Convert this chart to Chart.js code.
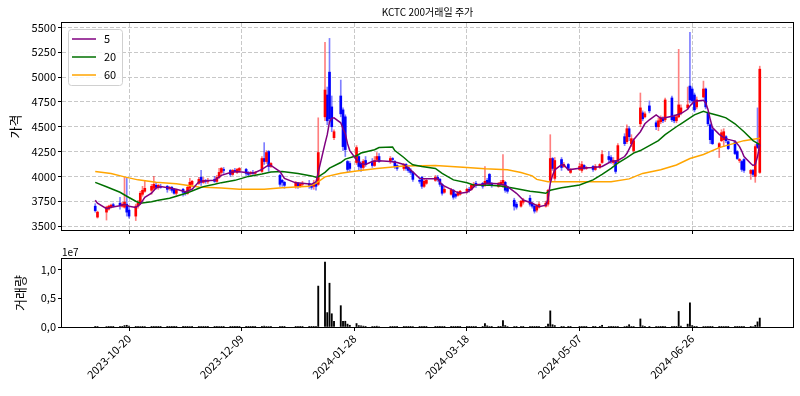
<!DOCTYPE html>
<html>
<head>
<meta charset="utf-8">
<script src="https://cdn.jsdelivr.net/npm/chart.js@4.4.0/dist/chart.umd.min.js"></script>
<style>
  html, body { margin: 0; padding: 0; background: #fff; }
  #wrap { position: relative; width: 800px; height: 396px; }
  #top { position: absolute; left: 0; top: 0; width: 800px; height: 240px; }
  #bot { position: absolute; left: 0; top: 240px; width: 800px; height: 156px; }
</style>
</head>
<body>
<div id="wrap">
  <div id="top"><canvas id="priceChart" width="800" height="240"></canvas></div>
  <div id="bot"><canvas id="volChart" width="800" height="156"></canvas></div>
</div>
<script>
// trading days shown (200)
const months = ['2023-10', '2023-11', '2023-12', '2024-01', '2024-02', '2024-03', '2024-04', '2024-05', '2024-06', '2024-07'];
const monthDays = [
    [5, 6, 10, 11, 12, 13, 16, 17, 18, 19, 20, 23, 24, 25, 26, 27, 30, 31],
    [1, 2, 3, 6, 7, 8, 9, 10, 13, 14, 15, 16, 17, 20, 21, 22, 23, 24, 27, 28, 29, 30],
    [1, 4, 5, 6, 7, 8, 11, 12, 13, 14, 15, 18, 19, 20, 21, 22, 26, 27, 28],
    [2, 3, 4, 5, 8, 9, 10, 11, 12, 15, 16, 17, 18, 19, 22, 23, 24, 25, 26, 29, 30, 31],
    [1, 2, 5, 6, 7, 8, 13, 14, 15, 16, 19, 20, 21, 22, 23, 26, 27, 28, 29],
    [4, 5, 6, 7, 8, 11, 12, 13, 14, 15, 18, 19, 20, 21, 22, 25, 26, 27, 28, 29],
    [1, 2, 3, 4, 5, 8, 9, 11, 12, 15, 16, 17, 18, 19, 22, 23, 24, 25, 26, 29, 30],
    [2, 3, 7, 8, 9, 10, 13, 14, 16, 17, 20, 21, 22, 23, 24, 27, 28, 29, 30, 31],
    [3, 4, 5, 7, 10, 11, 12, 13, 14, 17, 18, 19, 20, 21, 24, 25, 26, 27, 28],
    [1, 2, 3, 4, 5, 8, 9, 10, 11, 12, 15, 16, 17, 18, 19, 22, 23, 24, 25, 26],
];

const opens = [
    3700, 3590, 3640, 3670, 3690, 3715, 3730, 3700, 3690, 3720, 3660, 3600, 3700, 3730, 3820, 3850, 3860, 3880,
    3910, 3890, 3900, 3900, 3880, 3890, 3870, 3830, 3870, 3840, 3830, 3880, 3920, 3930, 3990, 3940, 3960, 3950, 3970, 3950, 3990, 4040,
    4070, 4060, 4020, 4060, 4040, 4060, 4070, 4030, 4030, 4040, 4030, 4050, 4180, 4150, 4250, 4100, 4010, 3960, 3940,
    3900, 3930, 3900, 3920, 3930, 3910, 3900, 3930, 3920, 4600, 4820, 5050, 4700, 4390, 4810, 4670, 4600, 4150, 4130, 4140, 4200, 4130,
    4090, 4160, 4140, 4110, 4170, 4200, 4150, 4180, 4150, 4110, 4080, 4120, 4090, 4060, 4040, 3960, 3990, 3900, 3930,
    3960, 3990, 3970, 3920, 3840, 3820, 3860, 3820, 3810, 3820, 3850, 3870, 3870, 3900, 3930, 3930, 3910, 3960, 4020, 3930,
    3900, 3920, 3930, 3940, 3880, 3760, 3720, 3700, 3740, 3780, 3730, 3700, 3660, 3690, 3700, 3720, 3960, 4180, 3980, 4170, 4100,
    4120, 4040, 4070, 4060, 4110, 4080, 4100, 4070, 4090, 4140, 4200, 4190, 4140, 4150, 4150, 4400, 4350, 4480, 4330, 4260,
    4530, 4640, 4600, 4710, 4540, 4500, 4550, 4580, 4570, 4790, 4600, 4560, 4600, 4640, 4690, 4910, 4880, 4820, 4700,
    4800, 4880, 4640, 4520, 4470, 4290, 4360, 4370, 4400, 4350, 4350, 4250, 4160, 4150, 4170, 4030, 4060, 4000, 4330, 4040,
];
const highs = [
    3725, 3650, 3700, 3710, 3720, 3730, 3790, 3740, 3990, 3980, 3690, 3720, 3760, 3850, 3900, 3960, 3920, 4000,
    3930, 3920, 3920, 3910, 3900, 3900, 3880, 3870, 3880, 3850, 3900, 3980, 3960, 3990, 4060, 3990, 3970, 3980, 4000, 4010, 4080, 4090,
    4090, 4070, 4070, 4080, 4080, 4090, 4080, 4050, 4050, 4060, 4050, 4200, 4340, 4260, 4260, 4140, 4020, 3970, 3950,
    3950, 3940, 3930, 3950, 3960, 3920, 3960, 3950, 4590, 5350, 4900, 5390, 4810, 4470, 4970, 4690, 4620, 4160, 4150, 4310, 4210, 4150,
    4170, 4200, 4180, 4200, 4240, 4230, 4200, 4190, 4160, 4120, 4130, 4130, 4100, 4080, 4050, 3980, 4000, 3970, 3980,
    4010, 4010, 3980, 3930, 3890, 3880, 3870, 3830, 3850, 3860, 3880, 3890, 3920, 3940, 3950, 3940, 4100, 3980, 4030, 3940,
    3940, 3960, 4220, 3950, 3900, 3780, 3740, 3760, 3780, 3810, 3740, 3720, 3720, 3740, 3750, 3870, 4420, 4190, 4190, 4190, 4140,
    4130, 4080, 4130, 4150, 4120, 4100, 4110, 4120, 4130, 4260, 4250, 4210, 4190, 4160, 4330, 4430, 4520, 4500, 4420, 4380,
    4840, 4660, 4650, 4760, 4560, 4590, 4610, 4600, 4790, 4810, 4620, 4620, 5280, 4720, 4900, 5450, 4900, 4840, 4800,
    4960, 4890, 4650, 4530, 4480, 4340, 4470, 4480, 4410, 4360, 4360, 4260, 4180, 4160, 4180, 4070, 4070, 4320, 4690, 5110,
];
const lows = [
    3640, 3580, 3560, 3660, 3680, 3690, 3670, 3690, 3680, 3600, 3580, 3555, 3680, 3720, 3800, 3840, 3820, 3860,
    3870, 3870, 3880, 3840, 3860, 3840, 3820, 3810, 3800, 3810, 3820, 3860, 3900, 3920, 3910, 3930, 3930, 3930, 3940, 3940, 3980, 4020,
    4030, 4000, 4010, 4040, 4030, 4040, 4010, 4000, 4010, 4020, 4020, 4040, 4120, 4130, 4050, 4090, 3900, 3900, 3880,
    3880, 3880, 3890, 3900, 3880, 3870, 3870, 3860, 3910, 4560, 4520, 4540, 4450, 4370, 4600, 4260, 4200, 4040, 4050, 4120, 4060, 4050,
    4070, 4100, 4090, 4100, 4150, 4140, 4130, 4150, 4080, 4060, 4060, 4060, 4040, 4020, 3950, 3930, 3880, 3890, 3920,
    3950, 3950, 3900, 3810, 3830, 3810, 3770, 3780, 3800, 3810, 3830, 3840, 3860, 3890, 3890, 3880, 3900, 3910, 3910, 3890,
    3890, 3900, 3890, 3840, 3830, 3660, 3670, 3690, 3720, 3700, 3680, 3630, 3640, 3680, 3690, 3700, 3950, 4060, 3960, 4060, 4090,
    4060, 4030, 4060, 4040, 4070, 4070, 4050, 4060, 4080, 4130, 4140, 4130, 4120, 4030, 4140, 4310, 4330, 4360, 4300, 4240,
    4500, 4560, 4590, 4640, 4470, 4460, 4530, 4540, 4550, 4550, 4540, 4540, 4590, 4620, 4680, 4740, 4740, 4650, 4680,
    4790, 4680, 4510, 4330, 4320, 4190, 4350, 4300, 4340, 4270, 4220, 4170, 4140, 4050, 4040, 3970, 4000, 3940, 4280, 4030,
];
const closes = [
    3655, 3640, 3690, 3700, 3710, 3700, 3705, 3720, 3740, 3640, 3600, 3700, 3730, 3830, 3860, 3880, 3900, 3920,
    3890, 3910, 3890, 3870, 3890, 3860, 3830, 3860, 3840, 3830, 3890, 3940, 3950, 3970, 3940, 3960, 3950, 3960, 3950, 3990, 4040, 4080,
    4060, 4020, 4060, 4050, 4070, 4080, 4030, 4020, 4040, 4030, 4040, 4180, 4150, 4240, 4100, 4130, 3920, 3940, 3910,
    3930, 3900, 3920, 3930, 3910, 3890, 3920, 3900, 4240, 4870, 4560, 4580, 4500, 4450, 4630, 4300, 4270, 4070, 4080, 4290, 4100, 4090,
    4150, 4120, 4110, 4160, 4200, 4150, 4180, 4170, 4100, 4080, 4120, 4080, 4060, 4040, 3970, 3950, 3900, 3950, 3960,
    3990, 3970, 3920, 3830, 3870, 3860, 3790, 3800, 3840, 3850, 3870, 3860, 3910, 3920, 3910, 3900, 3950, 3930, 3920, 3910,
    3920, 3940, 3960, 3860, 3850, 3700, 3690, 3750, 3760, 3720, 3700, 3650, 3700, 3720, 3730, 3860, 4180, 4080, 4160, 4090, 4120,
    4080, 4060, 4100, 4120, 4080, 4090, 4070, 4100, 4120, 4220, 4170, 4150, 4160, 4050, 4310, 4330, 4480, 4400, 4380, 4360,
    4690, 4580, 4630, 4660, 4500, 4560, 4590, 4560, 4770, 4570, 4560, 4600, 4720, 4690, 4720, 4770, 4760, 4670, 4770,
    4880, 4700, 4530, 4370, 4330, 4330, 4440, 4450, 4360, 4280, 4230, 4180, 4170, 4070, 4060, 4060, 4020, 4300, 4290, 5080,
];
const volumes = [
    60000, 70000, 90000, 40000, 40000, 30000, 70000, 50000, 250000, 300000,
    150000, 120000, 70000, 80000, 50000, 90000, 40000, 60000, 50000, 40000,
    30000, 40000, 30000, 40000, 50000, 30000, 40000, 40000, 50000, 90000,
    50000, 60000, 100000, 40000, 30000, 40000, 40000, 60000, 80000, 60000,
    50000, 40000, 40000, 30000, 40000, 50000, 40000, 30000, 30000, 30000,
    40000, 120000, 150000, 100000, 90000, 40000, 60000, 40000, 30000, 40000,
    30000, 30000, 40000, 30000, 40000, 40000, 50000, 7100000, 11260000, 2500000,
    7600000, 2300000, 1000000, 3700000, 1000000, 1000000, 500000, 300000, 600000, 250000,
    200000, 150000, 120000, 100000, 110000, 140000, 90000, 70000, 60000, 70000,
    60000, 50000, 70000, 60000, 50000, 90000, 50000, 70000, 40000, 40000,
    40000, 40000, 50000, 70000, 40000, 40000, 60000, 40000, 30000, 40000,
    30000, 30000, 40000, 30000, 40000, 40000, 600000, 200000, 80000, 40000,
    40000, 40000, 1100000, 250000, 80000, 100000, 60000, 40000, 40000, 50000,
    40000, 60000, 40000, 40000, 60000, 500000, 2800000, 400000, 250000, 120000,
    80000, 60000, 40000, 60000, 70000, 40000, 40000, 50000, 40000, 40000,
    300000, 70000, 60000, 40000, 70000, 100000, 90000, 130000, 400000, 100000,
    70000, 1400000, 200000, 70000, 60000, 100000, 70000, 40000, 40000, 100000,
    70000, 40000, 60000, 2700000, 150000, 500000, 4200000, 250000, 120000, 70000,
    100000, 70000, 60000, 40000, 50000, 60000, 40000, 70000, 40000, 30000,
    40000, 40000, 30000, 50000, 40000, 60000, 80000, 300000, 900000, 1550000,
];

// moving averages (trading-day index -> value)
const ma5Idx = [0, 1, 2, 4, 6, 8, 10, 11, 13, 15, 16, 18, 20, 22, 25, 27, 30, 31, 34, 36, 39, 41, 44, 46, 48, 50, 51, 54, 55, 56, 58, 59, 62, 64, 66, 67, 68, 69, 70, 71, 72, 73, 74, 75, 76, 77, 78, 80, 82, 83, 86, 87, 90, 91, 94, 96, 99, 101, 103, 105, 107, 109, 110, 112, 114, 115, 117, 120, 123, 124, 125, 126, 128, 130, 133, 134, 135, 136, 137, 138, 139, 140, 141, 143, 147, 150, 152, 155, 156, 157, 159, 160, 161, 163, 164, 165, 167, 169, 171, 174, 175, 176, 178, 180, 181, 182, 183, 184, 185, 187, 189, 190, 192, 193, 194, 195, 196, 197, 198, 199];
const ma5 = [3760, 3730, 3675, 3690, 3705, 3720, 3700, 3688, 3720, 3790, 3830, 3884, 3897, 3884, 3870, 3846, 3870, 3945, 3955, 3962, 4010, 4040, 4049, 4039, 4032, 4040, 4070, 4115, 4110, 4049, 3980, 3935, 3931, 3922, 3945, 4040, 4330, 4420, 4550, 4585, 4590, 4540, 4480, 4430, 4330, 4260, 4167, 4130, 4120, 4150, 4157, 4150, 4140, 4120, 4066, 3980, 3975, 3975, 3914, 3870, 3846, 3830, 3840, 3870, 3915, 3921, 3931, 3925, 3910, 3897, 3846, 3830, 3762, 3730, 3695, 3710, 3770, 3930, 4010, 4066, 4117, 4117, 4066, 4083, 4090, 4100, 4150, 4160, 4200, 4230, 4320, 4370, 4450, 4530, 4570, 4620, 4585, 4590, 4610, 4633, 4676, 4710, 4757, 4767, 4740, 4673, 4575, 4491, 4423, 4390, 4373, 4356, 4300, 4255, 4200, 4130, 4110, 4120, 4200, 4320];
const ma20Idx = [0, 2, 6, 9, 11, 13, 16, 19, 22, 25, 28, 31, 33, 36, 39, 43, 47, 51, 55, 57, 60, 64, 66, 67, 68, 70, 73, 75, 78, 80, 84, 86, 88, 89, 91, 93, 95, 97, 100, 103, 106, 110, 113, 118, 121, 125, 129, 133, 134, 136, 139, 141, 143, 147, 150, 152, 155, 157, 160, 161, 164, 166, 169, 172, 174, 176, 178, 180, 182, 185, 188, 190, 192, 194, 196, 199];
const ma20 = [3940, 3895, 3840, 3800, 3750, 3729, 3745, 3760, 3780, 3800, 3836, 3880, 3897, 3920, 3937, 3960, 4000, 4025, 4045, 4049, 4030, 4005, 3992, 3995, 4040, 4083, 4140, 4174, 4208, 4235, 4268, 4290, 4296, 4260, 4190, 4150, 4117, 4100, 4080, 4030, 3965, 3935, 3914, 3910, 3904, 3880, 3850, 3840, 3830, 3860, 3885, 3895, 3914, 3965, 4020, 4080, 4134, 4190, 4235, 4260, 4310, 4360, 4420, 4500, 4530, 4590, 4620, 4656, 4640, 4610, 4590, 4530, 4490, 4450, 4360, 4320];
const ma60Idx = [0, 4, 8, 12, 18, 25, 31, 39, 45, 52, 57, 63, 66, 68, 73, 78, 85, 91, 100, 110, 116, 124, 127, 130, 132, 135, 143, 152, 158, 162, 167, 172, 176, 180, 185, 190, 194, 199];
const ma60 = [4050, 4030, 3995, 3965, 3940, 3925, 3893, 3882, 3870, 3870, 3885, 3900, 3930, 3995, 4032, 4055, 4080, 4105, 4110, 4090, 4076, 4066, 4040, 4005, 3970, 3947, 3947, 3947, 3975, 4030, 4066, 4115, 4180, 4220, 4290, 4335, 4360, 4385];

const tickDates = ['2023-10-20', '2023-12-09', '2024-01-28', '2024-03-18', '2024-05-07', '2024-06-26'];
const priceTicks = [3500, 3750, 4000, 4250, 4500, 4750, 5000, 5250, 5500];
const volTicks = [0, 5000000, 10000000];

const FONT = "'Noto Sans CJK KR', 'Noto Sans', sans-serif";

const dates = [];
months.forEach((m, i) => monthDays[i].forEach(d => dates.push(m + '-' + String(d).padStart(2, '0'))));
const dayNum = s => Date.UTC(+s.slice(0, 4), +s.slice(5, 7) - 1, +s.slice(8, 10)) / 864e5;
const xs = dates.map(dayNum);
const span = xs[xs.length - 1] - xs[0];
const xMin = xs[0] - span * 0.05;
const xMax = xs[xs.length - 1] + span * 0.05;

const upWick = [], downWick = [], upBody = [], downBody = [];
dates.forEach((d, i) => {
    const up = closes[i] >= opens[i];
    (up ? upWick : downWick).push({x: xs[i], y: [lows[i], highs[i]]});
    (up ? upBody : downBody).push({x: xs[i], y: [opens[i], closes[i]]});
});
const maPoints = (idx, vals) => idx.map((k, j) => ({x: xs[k], y: vals[j]}));

const setXTicks = s => { s.ticks = tickDates.map(d => ({value: dayNum(d)})); };

// matplotlib-like frame round the plot area
const framePlugin = {
    id: 'frame',
    afterDraw(chart) {
        const a = chart.chartArea, ctx = chart.ctx;
        ctx.save();
        ctx.strokeStyle = '#000';
        ctx.lineWidth = 1;
        ctx.strokeRect(Math.round(a.left) - 0.5, Math.round(a.top) - 0.5, Math.round(a.right - a.left) + 1, Math.round(a.bottom - a.top) + 1);
        ctx.restore();
    }
};

const legendPlugin = {
    id: 'boxLegend',
    afterDatasetsDraw(chart) {
        const ctx = chart.ctx;
        const a = chart.chartArea;
        const lines = chart.data.datasets.filter(ds => ds.type === 'line');
        const x0 = a.left + 6, y0 = a.top + 6;
        ctx.save();
        ctx.fillStyle = 'rgba(255,255,255,0.85)';
        ctx.strokeStyle = '#d0d0d0';
        ctx.lineWidth = 1;
        ctx.beginPath();
        ctx.roundRect(x0 + 0.5, y0 + 0.5, 54, 56, 3);
        ctx.fill();
        ctx.stroke();
        ctx.font = '11px ' + FONT;
        ctx.textBaseline = 'middle';
        lines.forEach((ds, j) => {
            const y = y0 + 10 + j * 18;
            ctx.strokeStyle = ds.borderColor;
            ctx.lineWidth = 1.5;
            ctx.beginPath();
            ctx.moveTo(x0 + 4, y);
            ctx.lineTo(x0 + 28, y);
            ctx.stroke();
            ctx.fillStyle = '#000';
            ctx.fillText(ds.label, x0 + 36, y);
        });
        ctx.restore();
    }
};

const offsetTextPlugin = {
    id: 'offsetText',
    afterDraw(chart) {
        const ctx = chart.ctx;
        ctx.save();
        ctx.font = '10px ' + FONT;
        ctx.fillStyle = '#000';
        ctx.textBaseline = 'middle';
        ctx.fillText('1e7', chart.chartArea.left, chart.chartArea.top - 7);
        ctx.restore();
    }
};

const gridStyle = {color: '#c8c8c8', tickColor: '#000', tickLength: 4, offset: false};

const priceChart = new Chart(document.getElementById('priceChart'), {
    type: 'bar',
    data: {
        datasets: [
            {type: 'line', label: '5', data: maPoints(ma5Idx, ma5), borderColor: '#800080', borderWidth: 1.5, pointRadius: 0},
            {type: 'line', label: '20', data: maPoints(ma20Idx, ma20), borderColor: '#007000', borderWidth: 1.5, pointRadius: 0},
            {type: 'line', label: '60', data: maPoints(ma60Idx, ma60), borderColor: '#ffa500', borderWidth: 1.5, pointRadius: 0},
            {label: 'upBody', data: upBody, backgroundColor: '#ff0000', barThickness: 2, grouped: false, minBarLength: 1},
            {label: 'downBody', data: downBody, backgroundColor: '#0000ff', barThickness: 2, grouped: false, minBarLength: 1},
            {label: 'upWick', data: upWick, backgroundColor: 'rgba(255,0,0,0.5)', barThickness: 1, grouped: false},
            {label: 'downWick', data: downWick, backgroundColor: 'rgba(0,0,255,0.5)', barThickness: 1, grouped: false},
        ]
    },
    options: {
        responsive: false,
        animation: false,
        layout: {padding: {left: 0, right: 7, top: 0, bottom: 0}},
        plugins: {
            legend: {display: false},
            tooltip: {enabled: false},
            title: {
                display: true, text: 'KCTC 200거래일 주가', fullSize: false, color: '#000',
                font: {family: FONT, size: 10, weight: 'normal'}, padding: {top: 6, bottom: 5}
            }
        },
        scales: {
            x: {
                type: 'linear', min: xMin, max: xMax, offset: false,
                afterBuildTicks: setXTicks,
                afterFit: s => { s.height = 10; },
                ticks: {display: false},
                grid: gridStyle,
                border: {display: false, dash: [4, 2]}
            },
            y: {
                min: 3460, max: 5545,
                afterBuildTicks: s => { s.ticks = priceTicks.map(v => ({value: v})); },
                afterFit: s => { s.width = 62; },
                ticks: {color: '#000', font: {family: FONT, size: 11}, padding: 2, callback: v => String(v)},
                grid: gridStyle,
                border: {display: false, dash: [4, 2]},
                title: {display: true, text: '가격', color: '#000', font: {family: FONT, size: 13}, padding: {top: 7, bottom: 0}}
            }
        }
    },
    plugins: [framePlugin, legendPlugin]
});

const volChart = new Chart(document.getElementById('volChart'), {
    type: 'bar',
    data: {
        datasets: [{
            label: '거래량',
            data: volumes.map((v, i) => ({x: xs[i], y: v})),
            backgroundColor: '#000',
            barThickness: 1.2
        }]
    },
    options: {
        responsive: false,
        animation: false,
        layout: {padding: {left: 0, right: 7, top: 19, bottom: 0}},
        plugins: {legend: {display: false}, tooltip: {enabled: false}},
        scales: {
            x: {
                type: 'linear', min: xMin, max: xMax, offset: false,
                afterBuildTicks: setXTicks,
                afterFit: s => { s.height = 69; },
                ticks: {
                    color: '#000', font: {family: FONT, size: 11}, padding: 1,
                    maxRotation: 45, minRotation: 45, autoSkip: false,
                    callback: (v, i) => tickDates[i]
                },
                grid: {drawOnChartArea: false, tickColor: '#000', tickLength: 4, offset: false},
                border: {display: false}
            },
            y: {
                min: 0, max: 11800000,
                afterBuildTicks: s => { s.ticks = volTicks.map(v => ({value: v})); },
                afterFit: s => { s.width = 62; },
                ticks: {color: '#000', font: {family: FONT, size: 11}, padding: 2, callback: v => (v / 1e7).toFixed(1).replace('.', ',')},
                grid: {drawOnChartArea: false, tickColor: '#000', tickLength: 4},
                border: {display: false},
                title: {display: true, text: '거래량', color: '#000', font: {family: FONT, size: 13}, padding: {top: 12, bottom: 0}}
            }
        }
    },
    plugins: [framePlugin, offsetTextPlugin]
});
</script>
</body>
</html>
